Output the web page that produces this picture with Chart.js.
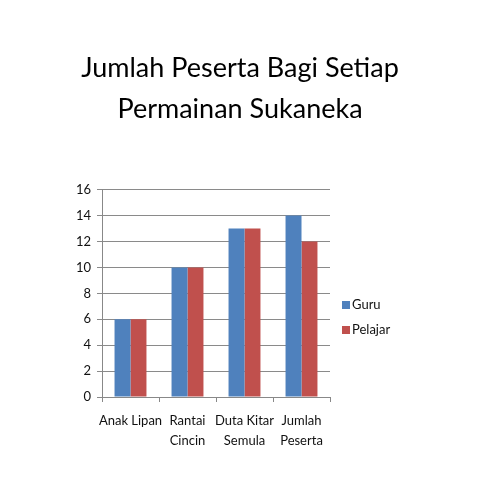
<!DOCTYPE html>
<html>
<head>
<meta charset="utf-8">
<script src="https://cdn.jsdelivr.net/npm/chart.js@4/dist/chart.umd.min.js"></script>
<style>
html,body{margin:0;padding:0;background:#fff;}
#wrap{width:480px;height:480px;}
</style>
</head>
<body>
<div id="wrap"><canvas id="c" width="480" height="480"></canvas></div>
<script>
const categories = ["Anak Lipan", ["Rantai", "Cincin"], ["Duta Kitar", "Semula"], ["Jumlah", "Peserta"]];
const guruValues = [6, 10, 13, 14];
const pelajarValues = [6, 10, 13, 12];
const seriesNames = ["Guru", "Pelajar"];
const titleLines = ["Jumlah Peserta Bagi Setiap", "Permainan Sukaneka"];
const yTicks = [0, 2, 4, 6, 8, 10, 12, 14, 16];

const FONT = "Lato, 'Open Sans', sans-serif";

const sideLegend = {
  id: 'sideLegend',
  afterDraw(chart) {
    const ctx = chart.ctx;
    const area = chart.chartArea;
    const x = area.right + 12;
    const startY = 305;
    const gap = 25;
    ctx.save();
    ctx.font = "13px " + FONT;
    ctx.textBaseline = 'middle';
    ctx.textAlign = 'left';
    chart.data.datasets.forEach((ds, i) => {
      const y = startY + i * gap;
      ctx.fillStyle = ds.backgroundColor;
      ctx.fillRect(x, y - 4, 8, 8);
      ctx.fillStyle = '#111';
      ctx.fillText(ds.label, x + 10, y);
    });
    ctx.restore();
  }
};

new Chart(document.getElementById('c'), {
  type: 'bar',
  data: {
    labels: categories,
    datasets: [
      { label: seriesNames[0], data: guruValues, backgroundColor: '#4F81BD', categoryPercentage: 0.56, barPercentage: 1.0, yAxisID: 'y' },
      { label: seriesNames[1], data: pelajarValues, backgroundColor: '#C0504D', categoryPercentage: 0.56, barPercentage: 1.0, yAxisID: 'y' }
    ]
  },
  options: {
    responsive: false,
    animation: false,
    layout: { padding: { left: 0, right: 0, top: 47, bottom: 0 } },
    plugins: {
      legend: { display: false },
      tooltip: { enabled: false },
      title: {
        display: true,
        text: titleLines,
        color: '#000',
        font: { family: FONT, size: 27, weight: 'normal', lineHeight: 1.55 },
        padding: { top: 0, bottom: 59 }
      }
    },
    scales: {
      x: {
        afterFit(axis) { axis.height = 83; },
        grid: { display: true, drawOnChartArea: false, drawTicks: true, tickLength: 5, color: '#888', offset: true },
        border: { display: true, color: '#888' },
        ticks: { color: '#111', autoSkip: false, font: { family: FONT, size: 13, lineHeight: 1.54 }, padding: 9, maxRotation: 0 }
      },
      y: {
        min: 0, max: 16,
        afterFit(axis) { axis.width = 102; },
        afterBuildTicks(axis) { axis.ticks = yTicks.map(v => ({ value: v })); },
        grid: { color: '#8a8a8a', tickLength: 5, drawTicks: true },
        border: { display: true, color: '#888' },
        ticks: { color: '#111', font: { family: FONT, size: 13 }, padding: 6 }
      },
      yPad: {
        position: 'right',
        min: 0, max: 1,
        afterFit(axis) { axis.width = 150; },
        grid: { display: false },
        border: { display: false },
        ticks: { display: false }
      }
    }
  },
  plugins: [sideLegend]
});
</script>
</body>
</html>
